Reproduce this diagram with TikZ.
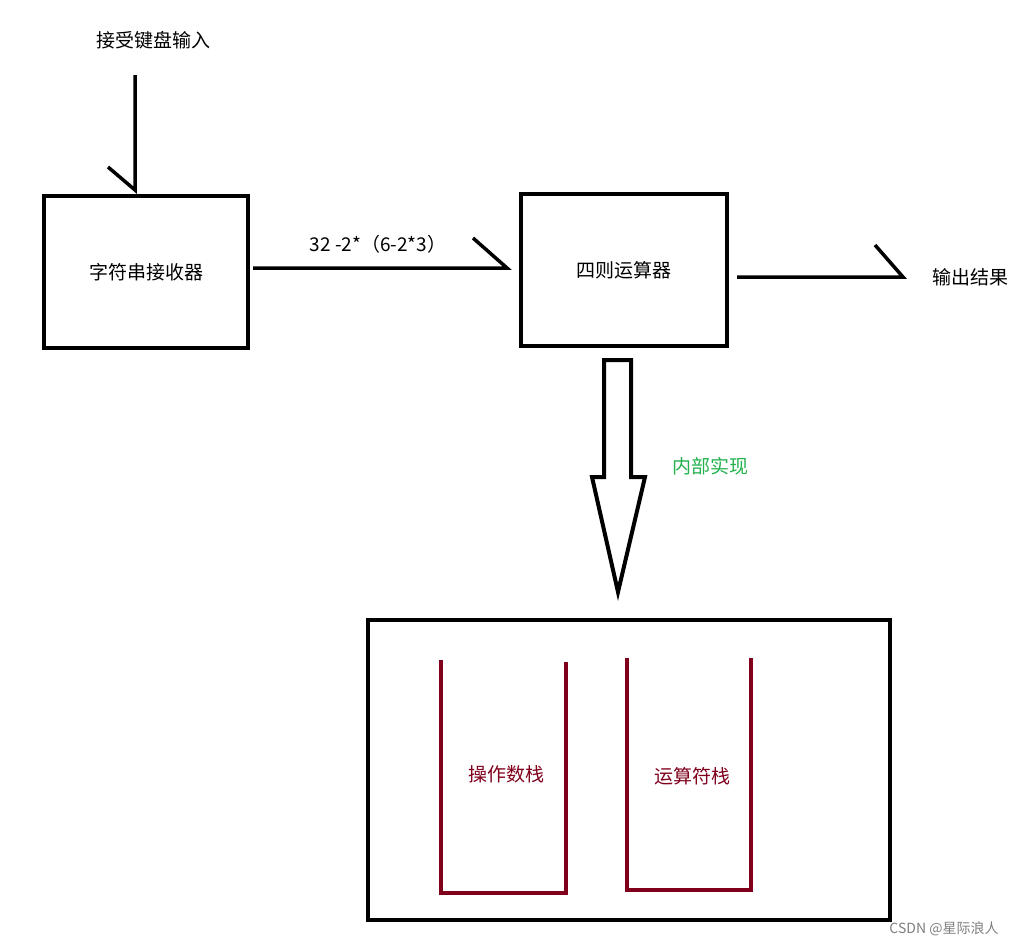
\documentclass[tikz,border=0pt]{standalone}
\usepackage{fontspec}
\setmainfont{Noto Sans CJK SC}
\begin{document}
\begin{tikzpicture}[x=1pt,y=-1pt,
  bx/.style={draw=black,line width=4pt},
  ln/.style={draw=black,line width=3.5pt},
  stk/.style={draw=stackred,line width=3.5pt},
  lbl/.style={font=\fontsize{19pt}{22pt}\selectfont,inner sep=0pt}]
\definecolor{stackred}{HTML}{80001C}
\definecolor{grn}{HTML}{22B14C}
\useasboundingbox[fill=white] (0,0) rectangle (1027,948);
\node[lbl] (t1) at (153,40) {接受键盘输入};
\coordinate (a1) at (135,75);
\coordinate (a1e) at (135,190);
\coordinate (a1h) at (108,167);
\draw[ln] (a1) -- (a1e) -- (a1h);
\node[bx,minimum width=204pt,minimum height=152pt] (b1) at (146,272) {};
\node[lbl] at (b1) {字符串接收器};
\coordinate (a2s) at (253,268);
\coordinate (a2e) at (507,268);
\coordinate (a2h) at (473,238);
\draw[ln] (a2s) -- (a2e) -- (a2h);
\node[lbl] (l2) at (378,244) {32 -2*（6-2*3）};
\node[bx,minimum width=206pt,minimum height=152pt] (b2) at (624,270) {};
\node[lbl] at (b2) {四则运算器};
\coordinate (a3s) at (737,277);
\coordinate (a3e) at (903,277);
\coordinate (a3h) at (875,245);
\draw[ln] (a3s) -- (a3e) -- (a3h);
\node[lbl] (t3) at (970,277) {输出结果};
\draw[ln,line width=4pt,line join=miter] (604,360) -- (631,360) -- (631,477) -- (645,477) -- (618,592) -- (592,477) -- (604,477) -- cycle;
\node[lbl,text=grn] (t4) at (710,466) {内部实现};
\node[bx,minimum width=522pt,minimum height=300pt] (b3) at (629,770) {};
\draw[stk] (441,660) -- (441,893) -- (566,893) -- (566,662);
\node[lbl,text=stackred] (s1) at (506,774) {操作数栈};
\draw[stk] (627,658) -- (627,890) -- (751,890) -- (751,658);
\node[lbl,text=stackred] (s2) at (692,776) {运算符栈};
\node[inner sep=0pt,text=gray,font=\fontsize{14pt}{16pt}\selectfont] (w) at (944,929) {CSDN @星际浪人};
\end{tikzpicture}
\end{document}
